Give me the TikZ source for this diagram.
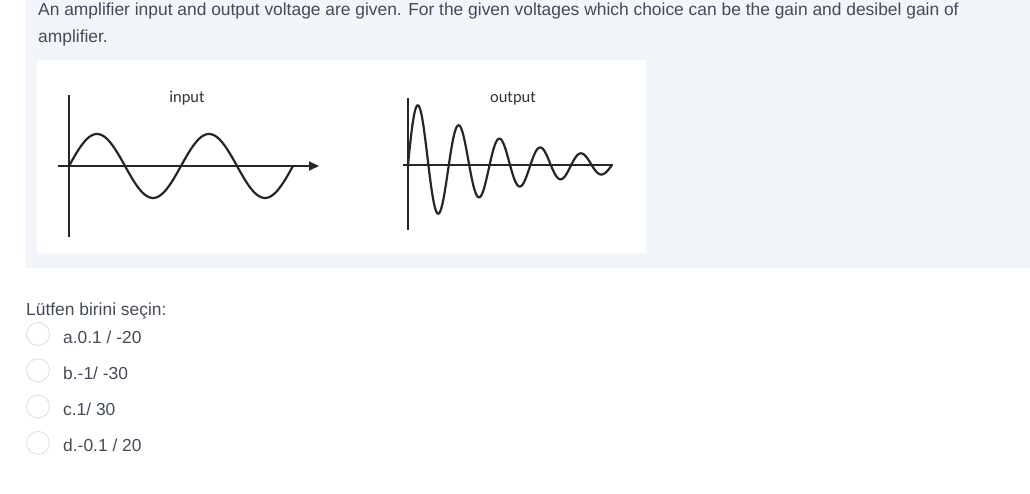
\documentclass[tikz,border=0pt]{standalone}
\usepackage{fontspec}
\setmainfont{Liberation Sans}
\newfontfamily\plotfont{Carlito}
\usetikzlibrary{arrows.meta}
\definecolor{panelgray}{HTML}{F2F5F9}
\definecolor{textgray}{HTML}{434B59}
\definecolor{ringgray}{HTML}{DEE2E6}
\tikzset{
  qtext/.style={anchor=base west,inner sep=0pt,text=textgray,font=\fontsize{17.4}{20}\selectfont},
  radio/.style={circle,draw=ringgray,line width=1pt,minimum size=23pt,inner sep=0pt},
  axisline/.style={line width=2pt,black!85},
  waveline/.style={line width=2.2pt,black!85,line join=round},
  plotlabel/.style={anchor=base,inner sep=0pt,text=black!80,font=\plotfont\fontsize{16.5}{18}\selectfont}
}
\begin{document}
\begin{tikzpicture}[x=1pt,y=-1pt]
  \useasboundingbox (0,0) rectangle (1030,494);
  \fill[panelgray] (25,0) rectangle (1030,268);
  \fill[white] (37,60) rectangle (646,253);

  \node[qtext] (qline1) at (38,16) {An amplifier input and output voltage are given. For the given voltages which choice can be the gain and desibel gain of};
  \node[qtext] (qline2) at (38,43) {amplifier.};

  % input
  \draw[axisline] (69,95) -- (69,237);
  \draw[axisline,-{Triangle[length=10pt,width=9pt]}] (58,166) -- (319,166);
  \draw[waveline] plot[domain=0:224,samples=120,smooth] ({69+\x},{166-32*sin(\x/112*360)});
  \node[plotlabel] (inlbl) at (187,103) {input};

  % output
  \def\per{40.8}
  \draw[axisline] (408,98) -- (408,230);
  \draw[axisline] (403,165) -- (613,165);
  \draw[waveline] plot[domain=0:204,samples=300,smooth] ({408+\x},{165-66*exp(-\x/100)*sin(\x/\per*360)});
  \node[plotlabel] (outlbl) at (513,103) {output};

  \node[qtext] (prompt) at (26,315) {Lütfen birini seçin:};
  \foreach \txt [count=\i from 0] in {{a.0.1 / -20},{b.-1/ -30},{c.1/ 30},{d.-0.1 / 20}} {
    \node[radio] (ring\i) at (38,{334+36.3*\i}) {};
    \node[qtext] (opt\i) at (63,{343+36.3*\i}) {\txt};
  }
\end{tikzpicture}
\end{document}
